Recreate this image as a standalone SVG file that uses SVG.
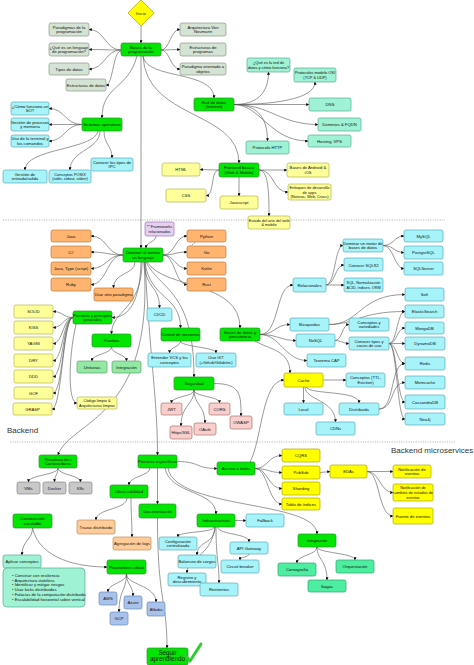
<svg xmlns="http://www.w3.org/2000/svg" width="474" height="665" viewBox="0 0 474 665">
<defs>
<marker id="a" viewBox="0 0 6 6" refX="5.5" refY="3" markerWidth="3" markerHeight="3" markerUnits="userSpaceOnUse" orient="auto"><path d="M0,0 L6,3 L0,6 z" fill="#000"/></marker>
<style>
rect{stroke-width:0.7}
text{font-family:"Liberation Sans",Arial,sans-serif;font-size:4.2px;text-anchor:middle;fill:#111}
.g{fill:#00e600;stroke:#2b8f2b}
.gg{fill:#d5e3d5;stroke:#8a9a8a}
.cy{fill:#a6f3fa;stroke:#5aaeb8}
.aq{fill:#9ff2d4;stroke:#5aae92}
.ly{fill:#ffff99;stroke:#b5b550}
.y{fill:#ffff00;stroke:#b0a800}
.or{fill:#ffb570;stroke:#c07a40}
.pk{fill:#f8cfcc;stroke:#b07070}
.gr{fill:#c8c8c8;stroke:#888}
.bl{fill:#a9c2ec;stroke:#6c88b8}
.pe{fill:#ffcc99;stroke:#c08a5a}
.lg{fill:#93e8a3;stroke:#5aa56a}
.sg{fill:#4deea0;stroke:#2fa070}
.pu{fill:#e6d0f0;stroke:#a070c0}
#conn path{fill:none;stroke:#555;stroke-width:0.6;marker-end:url(#a)}
.sep{stroke:#999;stroke-width:0.7;stroke-dasharray:1.2 1.2}
.big{font-size:8px;text-anchor:start;fill:#333}
</style>
</defs>
<rect x="0" y="0" width="474" height="665" fill="#fff"/>
<line class="sep" x1="3" y1="220" x2="445" y2="220"/>
<line class="sep" x1="10" y1="442" x2="455" y2="442"/>
<text class="big" x="7" y="433">Backend</text>
<text class="big" x="391" y="453">Backend microservices</text>

<g id="conn">
<path d="M141,26 L141,43"/>
<path d="M121,50 C105,50 105,29.5 89,29.5"/>
<path d="M121,50 C105,50 105,49.5 89,49.5"/>
<path d="M121,50 C105,50 105,69 89,69"/>
<path d="M121,51 C113,51 113,85 106,85"/>
<path d="M161,50 C170,50 170,29.5 180,29.5"/>
<path d="M161,50 C170,50 170,49.5 180,49.5"/>
<path d="M161,50 C170,50 170,69 180,69"/>
<path d="M137,56 C128,90 102,85 102,118"/>
<path d="M143,56 C146,80 214,70 214,98"/>
<path d="M143,56 C146,120 239,110 239,163"/>
<path d="M141,56 L141,248"/>
<path d="M82,124.5 C65,124.5 65,108.5 49,108.5"/>
<path d="M82,124.5 C65,124.5 65,124.5 49,124.5"/>
<path d="M82,124.5 C65,124.5 65,141 49,141"/>
<path d="M98,131 C95,150 25,148 25,170"/>
<path d="M100,131 C100,150 70,150 70,170"/>
<path d="M104,131 C104,145 112,145 112,158"/>
<path d="M234,104.5 C255,104.5 268.5,95 268.5,72"/>
<path d="M234,104.5 C270,104.5 315,100 315,82"/>
<path d="M234,104.5 L309,104.5"/>
<path d="M234,104.5 C270,104.5 280,124.5 318,124.5"/>
<path d="M234,104.5 C260,104.5 270,141 308,141"/>
<path d="M234,104.5 C255,104.5 267.5,115 267.5,141"/>
<path d="M219,170 L200,169.5"/>
<path d="M219,170 C210,170 215,195.5 206,195.5"/>
<path d="M239,177 L239,196"/>
<path d="M259,170 L287,170"/>
<path d="M259,170 C275,170 272,192 288,192"/>
<path d="M259,170 C268,170 269,190 269,216"/>
<path d="M156,236 C156,242 146,242 146,248"/>
<path d="M123,255 C107,255 107,236 91,236"/>
<path d="M123,255 C107,255 107,252 91,252"/>
<path d="M123,255 C107,255 107,268.5 91,268.5"/>
<path d="M123,255 C107,255 107,284.5 91,284.5"/>
<path d="M135,262 C135,275 113.5,272 113.5,288"/>
<path d="M163,255 C175,255 175,236 187,236"/>
<path d="M163,255 C175,255 175,252 187,252"/>
<path d="M163,255 C175,255 175,268.5 187,268.5"/>
<path d="M163,255 C175,255 175,284.5 187,284.5"/>
<path d="M141,262 C140,300 130,317.5 112,317.5"/>
<path d="M142,262 C142,310 111.5,310 111.5,334"/>
<path d="M144,262 C146,290 159.5,285 159.5,308"/>
<path d="M145,262 C150,300 180.5,295 180.5,328"/>
<path d="M146,262 C160,290 194,290 194,377"/>
<path d="M147,262 C165,290 240,280 240,328"/>
<path d="M144,262 C155,420 70,420 58,455"/>
<path d="M145,262 C150,360 157.5,400 157.5,455"/>
<path d="M73,317.5 C63,317.5 63,311.5 53,311.5"/>
<path d="M73,317.5 C63,317.5 63,327.5 53,327.5"/>
<path d="M73,317.5 C63,317.5 63,343.5 53,343.5"/>
<path d="M73,317.5 C63,317.5 63,360.5 53,360.5"/>
<path d="M73,317.5 C63,317.5 63,376.5 53,376.5"/>
<path d="M73,317.5 C63,317.5 63,393 53,393"/>
<path d="M73,317.5 C63,317.5 62,409 52,409"/>
<path d="M76,324 C68,360 68,403 77,403"/>
<path d="M111.5,347 C111.5,354 92,354 92,361"/>
<path d="M111.5,347 C111.5,354 126.5,354 126.5,361"/>
<path d="M180.5,341 C180.5,347 169.5,347 169.5,353"/>
<path d="M180.5,341 C180.5,347 216,347 216,353"/>
<path d="M194,390 C194,397 171.5,396 171.5,403"/>
<path d="M194,390 C194,405 181,405 181,426"/>
<path d="M194,390 C194,405 205,405 205,423"/>
<path d="M194,390 C194,397 219.5,396 219.5,403"/>
<path d="M214,383.5 C241,383.5 241,395 241,416"/>
<path d="M260,334.5 C280,334.5 275,285 293,285"/>
<path d="M260,334.5 C275,334.5 275,324.5 290,324.5"/>
<path d="M260,334.5 C278,334.5 280,340.5 296,340.5"/>
<path d="M260,334.5 C280,334.5 285,360.5 307,360.5"/>
<path d="M255,341 C270,350 290,350 290,373"/>
<path d="M326,285 C335,285 335,245.5 343,245.5"/>
<path d="M326,285 C335,285 335,265 344,265"/>
<path d="M326,285 L344,285"/>
<path d="M383,245.5 C394,245.5 394,236 404,236"/>
<path d="M383,245.5 C394,245.5 394,252.5 404,252.5"/>
<path d="M383,245.5 C394,245.5 394,268.5 404,268.5"/>
<path d="M329,324.5 C360,324.5 360,294.5 405,294.5"/>
<path d="M329,324.5 C355,324.5 360,311.5 405,311.5"/>
<path d="M335,340.5 C342,340.5 342,324.5 349,324.5"/>
<path d="M335,340.5 C342,340.5 342,343.5 349,343.5"/>
<path d="M389,343.5 C397,343.5 397,311.5 405,311.5"/>
<path d="M389,343.5 C397,343.5 397,328 405,328"/>
<path d="M389,343.5 L405,343.5"/>
<path d="M389,343.5 C397,343.5 397,363.5 405,363.5"/>
<path d="M389,343.5 C397,343.5 397,402 405,402"/>
<path d="M389,343.5 C397,343.5 397,419 405,419"/>
<path d="M323,380 L346,380"/>
<path d="M303.5,387 L303.5,403"/>
<path d="M306,387 C310,395 359,390 359,403"/>
<path d="M305,387 C305,400 335.5,400 335.5,422"/>
<path d="M250,462 C262,440 262,380 284,380"/>
<path d="M379,409 C395,409 390,382.5 405,382.5"/>
<path d="M379,409 C395,409 390,363.5 405,363.5"/>
<path d="M58,468 C58,475 28.5,475 28.5,482"/>
<path d="M58,468 C58,475 54.5,475 54.5,482"/>
<path d="M58,468 C58,475 80.5,475 80.5,482"/>
<path d="M177,461.5 C200,461.5 195,468.5 217,468.5"/>
<path d="M150,468 C150,476 129,476 129,485"/>
<path d="M157.5,468 L157.5,504"/>
<path d="M165,468 C170,495 216,490 216,514"/>
<path d="M168,468 C175,510 317,500 317,534"/>
<path d="M255,468.5 C268,468.5 268,455.5 282,455.5"/>
<path d="M255,468.5 C268,468.5 268,472.5 282,472.5"/>
<path d="M255,468.5 C268,468.5 268,488.5 282,488.5"/>
<path d="M255,468.5 C268,468.5 268,504 282,504"/>
<path d="M320,472.5 L330,471.5"/>
<path d="M367,471.5 L393,471.5"/>
<path d="M367,471.5 C380,471.5 380,492.5 393,492.5"/>
<path d="M367,471.5 C380,471.5 378,516 393,516"/>
<path d="M127,498 C127,510 96,508 96,520"/>
<path d="M131,498 C131,515 132,520 132,537"/>
<path d="M157.5,518 C157.5,600 167,600 167,648"/>
<path d="M32.5,528 C32.5,540 22,540 22,555"/>
<path d="M32.5,528 C40,560 80,567 107,567"/>
<path d="M126.5,574 C126.5,583 108,583 108,592"/>
<path d="M126.5,574 C126.5,590 119,590 119,612"/>
<path d="M126.5,574 C126.5,585 133,585 133,596"/>
<path d="M126.5,574 C126.5,585 156,585 156,602"/>
<path d="M235,520.5 L246,520.5"/>
<path d="M214,527 C214,533 178,531 178,537"/>
<path d="M218,527 C218,535 249,533 249,542"/>
<path d="M215,527 C215,545 197,540 197,555"/>
<path d="M215,527 C210,560 187,555 187,573"/>
<path d="M216,527 C216,560 219,560 219,583"/>
<path d="M249,554 C249,557 240,557 240,560"/>
<path d="M317,547 C317,555 297,555 297,563"/>
<path d="M317,547 C317,553 355,553 355,560"/>
<path d="M317,547 C317,560 327,560 327,580"/>
</g>
<line x1="188" y1="248" x2="206" y2="234" stroke="#555" stroke-width="0.6" stroke-dasharray="1.5 1"/>

<g id="inicio"><polygon points="141,0 154,13 141,26 128,13" fill="#ffff00" stroke="#b0a000" stroke-width="0.7"/><text x="141" y="14.5">Inicio</text></g>
<g id="bases"><rect class="g" x="121" y="43" width="40" height="13" rx="2"/><text x="141" y="48.6">Bases de la<tspan x="141" dy="4.8">programación</tspan></text></g>
<g id="paradigmas"><rect class="gg" x="49" y="23" width="40" height="13" rx="2"/><text x="69" y="28.6">Paradigmas de la<tspan x="69" dy="4.8">programación</tspan></text></g>
<g id="quees"><rect class="gg" x="49" y="43" width="40" height="13" rx="2"/><text x="69" y="48.6">¿Qué es un lenguaje<tspan x="69" dy="4.8">de programación?</tspan></text></g>
<g id="tipos"><rect class="gg" x="49" y="63" width="40" height="12" rx="2"/><text x="69" y="70.5">Tipos de datos</text></g>
<g id="estdatos"><rect class="gg" x="66" y="79" width="40" height="12" rx="2"/><text x="86" y="86.5">Estructuras de datos</text></g>
<g id="vonneumann"><rect class="gg" x="180" y="23" width="46" height="13" rx="2"/><text x="203" y="28.6">Arquitectura Von<tspan x="203" dy="4.8">Neumann</tspan></text></g>
<g id="estprog"><rect class="gg" x="180" y="43" width="46" height="13" rx="2"/><text x="203" y="48.6">Estructuras de<tspan x="203" dy="4.8">programas</tspan></text></g>
<g id="poo"><rect class="gg" x="180" y="63" width="46" height="12" rx="2"/><text x="203" y="68.1">Paradigma orientado a<tspan x="203" dy="4.8">objetos</tspan></text></g>

<g id="so"><rect class="g" x="82" y="118" width="40" height="13" rx="2"/><text x="102" y="126">Sistemas operativos</text></g>
<g id="comoso"><rect class="cy" x="11" y="102" width="38" height="13" rx="2"/><text x="30" y="107.6">¿Cómo funciona un<tspan x="30" dy="4.8">SO?</tspan></text></g>
<g id="procesos"><rect class="cy" x="11" y="118" width="38" height="13" rx="2"/><text x="30" y="123.6">Gestión de procesos<tspan x="30" dy="4.8">y memoria</tspan></text></g>
<g id="terminal"><rect class="cy" x="11" y="135" width="38" height="12" rx="2"/><text x="30" y="140.1">Uso de la terminal y<tspan x="30" dy="4.8">los comandos</tspan></text></g>
<g id="ipc"><rect class="cy" x="91" y="158" width="42" height="13" rx="2"/><text x="112" y="163.6">Conocer los tipos de<tspan x="112" dy="4.8">IPC</tspan></text></g>
<g id="es"><rect class="cy" x="3" y="170" width="44" height="13" rx="2"/><text x="25" y="175.6">Gestión de<tspan x="25" dy="4.8">entrada/salida</tspan></text></g>
<g id="posix"><rect class="cy" x="49" y="170" width="42" height="13" rx="2"/><text x="70" y="175.6" style="font-size:3.9px">Conceptos POSIX<tspan x="70" dy="4.8">(stdin, stdout, stderr)</tspan></text></g>

<g id="red"><rect class="g" x="194" y="98" width="40" height="13" rx="2"/><text x="214" y="103.6">Red de datos<tspan x="214" dy="4.8">(Internet)</tspan></text></g>
<g id="quered"><rect class="aq" x="247" y="58" width="43" height="14" rx="2"/><text x="268.5" y="64.1" style="font-size:3.9px">¿Qué es la red de<tspan x="268.5" dy="4.8">datos y cómo funciona?</tspan></text></g>
<g id="osi"><rect class="aq" x="294" y="68" width="42" height="14" rx="2"/><text x="315" y="74.1" style="font-size:3.9px">Protocolos modelo OSI<tspan x="315" dy="4.8">(TCP &amp; UDP)</tspan></text></g>
<g id="dns"><rect class="aq" x="309" y="98" width="42" height="13" rx="2"/><text x="330" y="106">DNS</text></g>
<g id="fqdn"><rect class="aq" x="318" y="118" width="43" height="13" rx="2"/><text x="339.5" y="126">Dominios &amp; FQDN</text></g>
<g id="hosting"><rect class="aq" x="308" y="135" width="43" height="12" rx="2"/><text x="329.5" y="142.5">Hosting, VPS</text></g>
<g id="http"><rect class="aq" x="246" y="141" width="43" height="13" rx="2"/><text x="267.5" y="149">Protocolo HTTP</text></g>

<g id="frontend"><rect class="g" x="219" y="163" width="40" height="14" rx="2"/><text x="239" y="169.1">Frontend básico<tspan x="239" dy="4.8">(Web &amp; Mobile)</tspan></text></g>
<g id="html"><rect class="ly" x="162" y="163" width="38" height="13" rx="2"/><text x="181" y="171">HTML</text></g>
<g id="css"><rect class="ly" x="166" y="189" width="40" height="13" rx="2"/><text x="186" y="197">CSS</text></g>
<g id="js"><rect class="ly" x="220" y="196" width="38" height="13" rx="2"/><text x="239" y="204">Javascript</text></g>
<g id="android"><rect class="ly" x="287" y="163" width="42" height="14" rx="2"/><text x="308" y="169.1">Bases de Android &amp;<tspan x="308" dy="4.8">iOS</tspan></text></g>
<g id="enfoques"><rect class="ly" x="288" y="184" width="43" height="16" rx="2"/><text x="309.5" y="188.9" style="font-size:3.9px">Enfoques de desarrollo<tspan x="309.5" dy="4.6">de apps</tspan><tspan x="309.5" dy="4.6">(Nativas, Web, Cross)</tspan></text></g>
<g id="estado"><rect class="ly" x="248" y="216" width="42" height="13" rx="2"/><text x="269" y="221.6" style="font-size:3.9px">Estado del arte del web<tspan x="269" dy="4.8">&amp; mobile</tspan></text></g>

<g id="frameworks"><rect class="pu" x="145" y="222" width="29" height="14" rx="2"/><text x="159.5" y="228.1" style="font-size:3.9px">** Frameworks<tspan x="159.5" dy="4.8">relacionados</tspan></text></g>
<g id="dominar"><rect class="g" x="123" y="248" width="40" height="14" rx="2"/><text x="143" y="254.1">Dominar al menos<tspan x="143" dy="4.8">un lenguaje</tspan></text></g>
<g id="java"><rect class="or" x="51" y="230" width="40" height="12" rx="2"/><text x="71" y="237.5">Java</text></g>
<g id="csharp"><rect class="or" x="51" y="246" width="40" height="12" rx="2"/><text x="71" y="253.5">C#</text></g>
<g id="jsts"><rect class="or" x="51" y="262" width="40" height="13" rx="2"/><text x="71" y="270">Java, Type (script)</text></g>
<g id="ruby"><rect class="or" x="51" y="278" width="40" height="13" rx="2"/><text x="71" y="286">Ruby</text></g>
<g id="otroparadigma"><rect class="or" x="94" y="288" width="39" height="13" rx="2"/><text x="113.5" y="296">Usar otro paradigma</text></g>
<g id="python"><rect class="or" x="187" y="230" width="39" height="12" rx="2"/><text x="206.5" y="237.5">Python</text></g>
<g id="go"><rect class="or" x="187" y="246" width="39" height="12" rx="2"/><text x="206.5" y="253.5">Go</text></g>
<g id="kotlin"><rect class="or" x="187" y="262" width="39" height="13" rx="2"/><text x="206.5" y="270">Kotlin</text></g>
<g id="rust"><rect class="or" x="187" y="278" width="39" height="13" rx="2"/><text x="206.5" y="286">Rust</text></g>

<g id="patrones"><rect class="g" x="73" y="311" width="39" height="13" rx="2"/><text x="92.5" y="316.6">Patrones y principios<tspan x="92.5" dy="4.8">generales</tspan></text></g>
<g id="solid"><rect class="ly" x="14" y="305" width="39" height="13" rx="2"/><text x="33.5" y="313">SOLID</text></g>
<g id="kiss"><rect class="ly" x="14" y="321" width="39" height="13" rx="2"/><text x="33.5" y="329">KISS</text></g>
<g id="yagni"><rect class="ly" x="14" y="337" width="39" height="13" rx="2"/><text x="33.5" y="345">YAGNI</text></g>
<g id="dry"><rect class="ly" x="14" y="354" width="39" height="13" rx="2"/><text x="33.5" y="362">DRY</text></g>
<g id="ddd"><rect class="ly" x="14" y="370" width="39" height="13" rx="2"/><text x="33.5" y="378">DDD</text></g>
<g id="gof"><rect class="ly" x="14" y="387" width="39" height="12" rx="2"/><text x="33.5" y="394.5">GOF</text></g>
<g id="grasp"><rect class="ly" x="13" y="403" width="39" height="12" rx="2"/><text x="32.5" y="410.5">GRASP</text></g>
<g id="codigo"><rect class="ly" x="77" y="397" width="40" height="12" rx="2"/><text x="97" y="402.1" style="font-size:3.9px">Código limpio &amp;<tspan x="97" dy="4.5">Arquitecturas limpias</tspan></text></g>
<g id="pruebas"><rect class="g" x="92" y="334" width="39" height="13" rx="2"/><text x="111.5" y="342">Pruebas</text></g>
<g id="unitarias"><rect class="lg" x="77" y="361" width="30" height="12" rx="2"/><text x="92" y="368.5">Unitarias</text></g>
<g id="integracionp"><rect class="lg" x="112" y="361" width="29" height="12" rx="2"/><text x="126.5" y="368.5">Integración</text></g>
<g id="cicd"><rect class="cy" x="147" y="308" width="25" height="13" rx="2"/><text x="159.5" y="316">CI/CD</text></g>
<g id="control"><rect class="g" x="161" y="328" width="39" height="13" rx="2"/><text x="180.5" y="336">Control de versiones</text></g>
<g id="vcs"><rect class="cy" x="148" y="353" width="43" height="14" rx="2"/><text x="169.5" y="359.1">Entender VCS y los<tspan x="169.5" dy="4.8">conceptos</tspan></text></g>
<g id="git"><rect class="cy" x="196" y="353" width="40" height="14" rx="2"/><text x="216" y="359.1" style="font-size:3.8px">Usar GIT<tspan x="216" dy="4.8">(+Github/Gitlab/etc)</tspan></text></g>
<g id="seguridad"><rect class="g" x="174" y="377" width="40" height="13" rx="2"/><text x="194" y="385">Seguridad</text></g>
<g id="jwt"><rect class="pk" x="161" y="403" width="21" height="12" rx="2"/><text x="171.5" y="410.5">JWT</text></g>
<g id="https"><rect class="pk" x="170" y="426" width="22" height="13" rx="2"/><text x="181" y="434">Https/SSL</text></g>
<g id="oauth"><rect class="pk" x="194" y="423" width="22" height="12" rx="2"/><text x="205" y="430.5">OAuth</text></g>
<g id="cors"><rect class="pk" x="209" y="403" width="21" height="12" rx="2"/><text x="219.5" y="410.5">CORS</text></g>
<g id="owasp"><rect class="pk" x="230" y="416" width="22" height="13" rx="2"/><text x="241" y="424">OWASP</text></g>

<g id="bd"><rect class="g" x="220" y="328" width="40" height="13" rx="2"/><text x="240" y="333.6">Bases de datos y<tspan x="240" dy="4.8">persistencia</tspan></text></g>
<g id="relacionales"><rect class="cy" x="293" y="278" width="33" height="14" rx="2"/><text x="309.5" y="286.5">Relacionales</text></g>
<g id="motor"><rect class="cy" x="343" y="239" width="40" height="13" rx="2"/><text x="363" y="244.6">Dominar un motor de<tspan x="363" dy="4.8">bases de datos</tspan></text></g>
<g id="sql92"><rect class="cy" x="344" y="258" width="39" height="13" rx="2"/><text x="363.5" y="266.5">Conocer SQL92</text></g>
<g id="sqlnorm"><rect class="cy" x="344" y="278" width="39" height="14" rx="2"/><text x="363.5" y="284.1" style="font-size:3.8px">SQL, Normalización<tspan x="363.5" dy="4.8">ACID, índices, ORM</tspan></text></g>
<g id="mysql"><rect class="cy" x="404" y="230" width="39" height="12" rx="2"/><text x="423.5" y="237.5">MySQL</text></g>
<g id="postgres"><rect class="cy" x="404" y="246" width="39" height="13" rx="2"/><text x="423.5" y="254">PostgreSQL</text></g>
<g id="sqlserver"><rect class="cy" x="404" y="262" width="39" height="13" rx="2"/><text x="423.5" y="270">SQLServer</text></g>
<g id="busquedas"><rect class="cy" x="290" y="318" width="39" height="13" rx="2"/><text x="309.5" y="326">Búsquedas</text></g>
<g id="solr"><rect class="cy" x="405" y="288" width="39" height="13" rx="2"/><text x="424.5" y="296">Solr</text></g>
<g id="elastic"><rect class="cy" x="405" y="305" width="39" height="13" rx="2"/><text x="424.5" y="313">ElasticSearch</text></g>
<g id="mongo"><rect class="cy" x="405" y="322" width="39" height="12" rx="2"/><text x="424.5" y="329.5">MongoDB</text></g>
<g id="conceptosvar"><rect class="cy" x="349" y="318" width="40" height="13" rx="2"/><text x="369" y="323.6">Conceptos y<tspan x="369" dy="4.8">variedades</tspan></text></g>
<g id="nosql"><rect class="cy" x="296" y="334" width="39" height="13" rx="2"/><text x="315.5" y="342">NoSQL</text></g>
<g id="tiposnosql"><rect class="cy" x="349" y="337" width="40" height="13" rx="2"/><text x="369" y="342.6">Conocer tipos y<tspan x="369" dy="4.8">casos de uso</tspan></text></g>
<g id="dynamo"><rect class="cy" x="405" y="337" width="40" height="13" rx="2"/><text x="425" y="345">DynamoDB</text></g>
<g id="cap"><rect class="cy" x="307" y="354" width="39" height="13" rx="2"/><text x="326.5" y="362">Teorema CAP</text></g>
<g id="redis"><rect class="cy" x="405" y="357" width="40" height="13" rx="2"/><text x="425" y="365">Redis</text></g>
<g id="cache"><rect class="y" x="284" y="373" width="39" height="14" rx="2"/><text x="303.5" y="381.5">Cache</text></g>
<g id="ttl"><rect class="cy" x="346" y="373" width="39" height="14" rx="2"/><text x="365.5" y="379.1">Conceptos (TTL,<tspan x="365.5" dy="4.8">Eviction)</tspan></text></g>
<g id="memcache"><rect class="cy" x="405" y="376" width="40" height="13" rx="2"/><text x="425" y="384">Memcache</text></g>
<g id="local"><rect class="cy" x="284" y="403" width="39" height="12" rx="2"/><text x="303.5" y="410.5">Local</text></g>
<g id="distribuida"><rect class="cy" x="339" y="403" width="40" height="12" rx="2"/><text x="359" y="410.5">Distribuida</text></g>
<g id="cassandra"><rect class="cy" x="405" y="395" width="40" height="14" rx="2"/><text x="425" y="403.5">CassandraDB</text></g>
<g id="neo4j"><rect class="cy" x="405" y="413" width="40" height="12" rx="2"/><text x="425" y="420.5">Neo4j</text></g>
<g id="cdns"><rect class="cy" x="316" y="422" width="39" height="13" rx="2"/><text x="335.5" y="430">CDNs</text></g>

<g id="virtualizacion"><rect class="g" x="39" y="455" width="38" height="13" rx="2"/><text x="58" y="460.6">Virtualización /<tspan x="58" dy="4.8">Contenedores</tspan></text></g>
<g id="vms"><rect class="gr" x="17" y="482" width="23" height="12" rx="2"/><text x="28.5" y="489.5">VMs</text></g>
<g id="docker"><rect class="gr" x="43" y="482" width="23" height="12" rx="2"/><text x="54.5" y="489.5">Docker</text></g>
<g id="k8s"><rect class="gr" x="69" y="482" width="23" height="12" rx="2"/><text x="80.5" y="489.5">K8s</text></g>
<g id="patronesesp"><rect class="g" x="138" y="455" width="39" height="13" rx="2"/><text x="157.5" y="463">Patrones específicos</text></g>
<g id="acceso"><rect class="g" x="217" y="462" width="38" height="13" rx="2"/><text x="236" y="470">Acceso a datos</text></g>
<g id="cqrs"><rect class="y" x="282" y="449" width="38" height="13" rx="2"/><text x="301" y="457">CQRS</text></g>
<g id="pubsub"><rect class="y" x="282" y="466" width="38" height="13" rx="2"/><text x="301" y="474">PubSub</text></g>
<g id="sharding"><rect class="y" x="282" y="482" width="38" height="13" rx="2"/><text x="301" y="490">Sharding</text></g>
<g id="tabla"><rect class="y" x="282" y="498" width="38" height="12" rx="2"/><text x="301" y="505.5">Tabla de índices</text></g>
<g id="edas"><rect class="y" x="330" y="465" width="37" height="13" rx="2"/><text x="348.5" y="473">EDAs</text></g>
<g id="notif"><rect class="y" x="393" y="465" width="38" height="13" rx="2"/><text x="412" y="470.6">Notificación de<tspan x="412" dy="4.8">eventos</tspan></text></g>
<g id="notifcambios"><rect class="y" x="393" y="484" width="40" height="17" rx="2"/><text x="413" y="489.4" style="font-size:3.9px">Notificación de<tspan x="413" dy="4.6">cambios de estados de</tspan><tspan x="413" dy="4.6">eventos</tspan></text></g>
<g id="fuente"><rect class="y" x="393" y="508" width="40" height="16" rx="2"/><text x="413" y="517.5">Fuente de eventos</text></g>

<g id="observabilidad"><rect class="g" x="110" y="485" width="38" height="13" rx="2"/><text x="129" y="493">Observabilidad</text></g>
<g id="trazas"><rect class="pe" x="77" y="520" width="38" height="14" rx="2"/><text x="96" y="528.5">Trazas distribuido</text></g>
<g id="logs"><rect class="pe" x="113" y="537" width="38" height="13" rx="2"/><text x="132" y="545">Agregación de logs</text></g>
<g id="documentacion"><rect class="g" x="139" y="504" width="37" height="14" rx="2"/><text x="157.5" y="512.5">Documentación</text></g>
<g id="construccion"><rect class="g" x="13" y="514" width="39" height="14" rx="2"/><text x="32.5" y="520.1">Construcción<tspan x="32.5" dy="4.8">escalable</tspan></text></g>
<g id="aplicar"><rect class="aq" x="3" y="555" width="38" height="13" rx="2"/><text x="22" y="563">Aplicar conceptos</text></g>
<g id="lista"><rect class="aq" x="3" y="568" width="82" height="39" rx="4"/><text style="text-anchor:start" x="12" y="577">•  Construir con resiliencia<tspan x="12" dy="4.7">•  Arquitectura stateless</tspan><tspan x="12" dy="4.7">•  Identificar y mitigar riesgos</tspan><tspan x="12" dy="4.7">•  Usar locks distribuidos</tspan><tspan x="12" dy="4.7">•  Falacias de la computación distribuida</tspan><tspan x="12" dy="4.7">•  Escalabilidad horizontal sobre vertical</tspan></text></g>
<g id="proveedores"><rect class="g" x="107" y="560" width="39" height="14" rx="2"/><text x="126.5" y="568.5">Proveedores cloud</text></g>
<g id="aws"><rect class="bl" x="99" y="592" width="18" height="13" rx="2"/><text x="108" y="600">AWS</text></g>
<g id="azure"><rect class="bl" x="124" y="596" width="18" height="13" rx="2"/><text x="133" y="604">Azure</text></g>
<g id="gcp"><rect class="bl" x="110" y="612" width="18" height="13" rx="2"/><text x="119" y="620">GCP</text></g>
<g id="alibaba"><rect class="bl" x="147" y="602" width="18" height="14" rx="2"/><text x="156" y="610.5" style="font-size:3.8px">Alibaba</text></g>

<g id="infra"><rect class="g" x="197" y="514" width="38" height="13" rx="2"/><text x="216" y="522">Infraestructura</text></g>
<g id="fallback"><rect class="cy" x="246" y="514" width="38" height="13" rx="2"/><text x="265" y="522">Fallback</text></g>
<g id="config"><rect class="cy" x="159" y="537" width="38" height="13" rx="2"/><text x="178" y="542.6">Configuración<tspan x="178" dy="4.8">centralizada</tspan></text></g>
<g id="apigw"><rect class="cy" x="230" y="542" width="38" height="12" rx="2"/><text x="249" y="549.5">API Gateway</text></g>
<g id="balanceo"><rect class="cy" x="178" y="555" width="38" height="13" rx="2"/><text x="197" y="563">Balanceo de cargas</text></g>
<g id="circuit"><rect class="cy" x="221" y="560" width="38" height="13" rx="2"/><text x="240" y="568">Circuit breaker</text></g>
<g id="registro"><rect class="cy" x="168" y="573" width="38" height="13" rx="2"/><text x="187" y="578.6">Registro y<tspan x="187" dy="4.8">descubrimiento</tspan></text></g>
<g id="reintentos"><rect class="cy" x="200" y="583" width="38" height="13" rx="2"/><text x="219" y="591">Reintentos</text></g>
<g id="integracion"><rect class="g" x="298" y="534" width="38" height="13" rx="2"/><text x="317" y="542">Integración</text></g>
<g id="coreografia"><rect class="sg" x="278" y="563" width="38" height="13" rx="2"/><text x="297" y="571">Coreografía</text></g>
<g id="orquestacion"><rect class="sg" x="336" y="560" width="38" height="13" rx="2"/><text x="355" y="568">Orquestación</text></g>
<g id="sagas"><rect class="sg" x="308" y="580" width="38" height="12" rx="2"/><text x="327" y="587.5">Sagas</text></g>

<g id="seguir"><rect class="g" x="147" y="648" width="41" height="17" rx="2"/><text x="167.5" y="654.5" style="font-size:6.3px">Seguir<tspan x="167.5" dy="6.5">aprendiendo</tspan></text><path d="M185,655 L190,661 L201,644" fill="none" stroke="#2ecc2e" stroke-width="3" stroke-linecap="round" stroke-linejoin="round"/></g>
</svg>
